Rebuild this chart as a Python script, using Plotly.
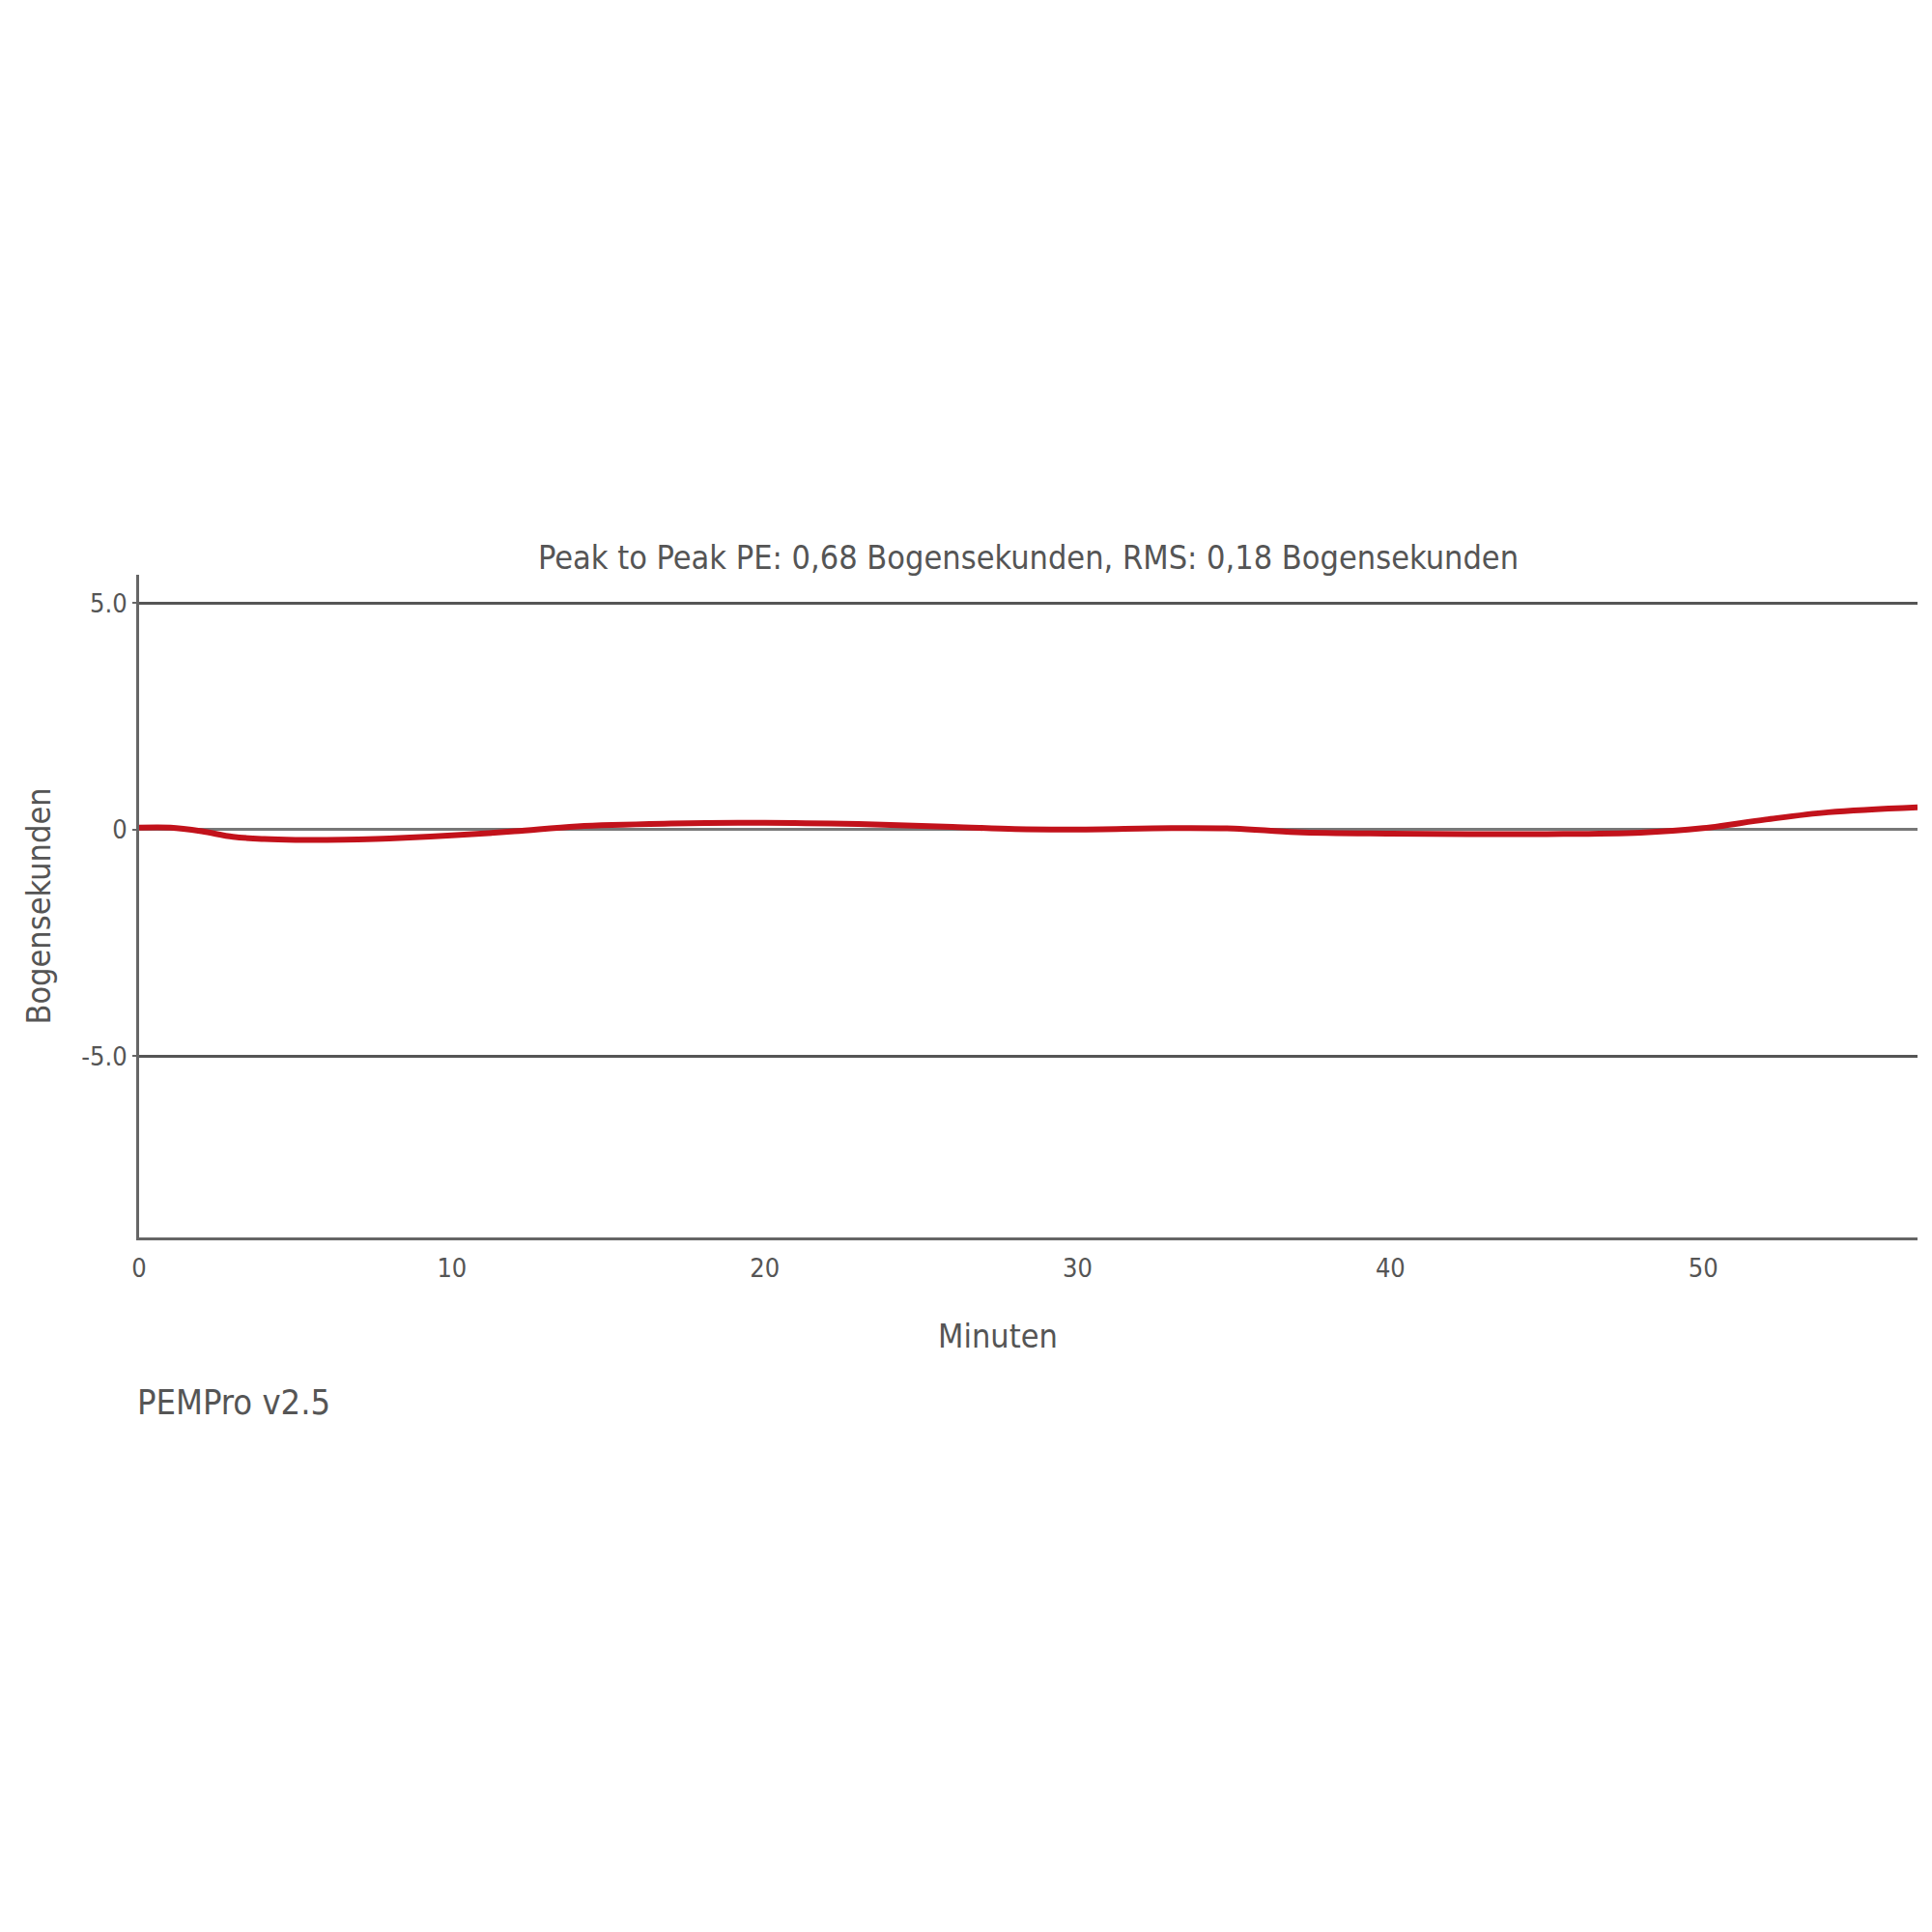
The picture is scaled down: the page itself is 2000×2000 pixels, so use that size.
import plotly.graph_objects as go

minutes = [0, 1, 2, 3, 4, 5, 6, 7, 8, 10, 12, 14, 17, 20, 23, 26, 28, 30, 33, 35, 37, 40, 45, 48, 50, 52, 54, 56.85]
pe_arcsec = [0.04, 0.04, -0.04, -0.16, -0.21, -0.23, -0.23, -0.22, -0.2, -0.13, -0.04, 0.07, 0.13, 0.15, 0.12, 0.06, 0.01, 0.0, 0.03, 0.02, -0.06, -0.09, -0.1, -0.07, 0.03, 0.22, 0.38, 0.49]

y_tickvals = [5, 0, -5]
y_ticktext = ["5.0", "0", "-5.0"]
x_tickvals = [0, 10, 20, 30, 40, 50]
x_ticktext = ["0", "10", "20", "30", "40", "50"]

title_text = "Peak to Peak PE: 0,68 Bogensekunden, RMS: 0,18 Bogensekunden"
x_title = "Minuten"
y_title = "Bogensekunden"
footer = "PEMPro v2.5"

FONT = "DejaVu Sans Condensed, Liberation Sans Narrow, Arial Narrow, sans-serif"
TXT = "#555555"

fig = go.Figure()
fig.add_trace(go.Scatter(
    x=minutes, y=pe_arcsec, mode="lines",
    line=dict(color="#c2121b", width=6, shape="spline", smoothing=1.0),
    showlegend=False, hoverinfo="skip"))

fig.update_layout(
    width=2000, height=2000,
    paper_bgcolor="white", plot_bgcolor="white",
    margin=dict(l=136, r=23, t=587, b=727),
    font=dict(family=FONT, color=TXT),
    title=dict(text=title_text, x=0.5, xref="paper", xanchor="center",
               y=1 - 569 / 2000, yref="container", yanchor="middle",
               font=dict(size=34, family=FONT, color=TXT)),
    xaxis=dict(range=[0, 56.85], showgrid=False, zeroline=False,
               showline=True, linecolor="#666666", linewidth=3,
               tickvals=x_tickvals, ticktext=x_ticktext, ticks="",
               ticklabelstandoff=6,
               tickfont=dict(size=27, family=FONT, color=TXT)),
    yaxis=dict(range=[-9.0, 5.62], showgrid=True, gridcolor="#555555", gridwidth=3,
               zeroline=True, zerolinecolor="#777777", zerolinewidth=3,
               showline=True, linecolor="#666666", linewidth=3,
               tickvals=y_tickvals, ticktext=y_ticktext,
               ticks="outside", ticklen=4, tickcolor="#666666", tickwidth=2,
               tickfont=dict(size=27, family=FONT, color=TXT),
               title=dict(text=y_title, standoff=22,
                          font=dict(size=34, family=FONT, color=TXT))),
    annotations=[
        dict(text=x_title, xref="paper", yref="paper", x=0.483, y=-0.149,
             xanchor="center", yanchor="middle", showarrow=False,
             font=dict(size=34, family=FONT, color=TXT)),
        dict(text=footer, xref="paper", yref="paper", x=-0.002, y=-0.248,
             xanchor="left", yanchor="middle", showarrow=False,
             font=dict(size=36, family=FONT, color=TXT)),
    ],
)

fig.write_html("out.html")
